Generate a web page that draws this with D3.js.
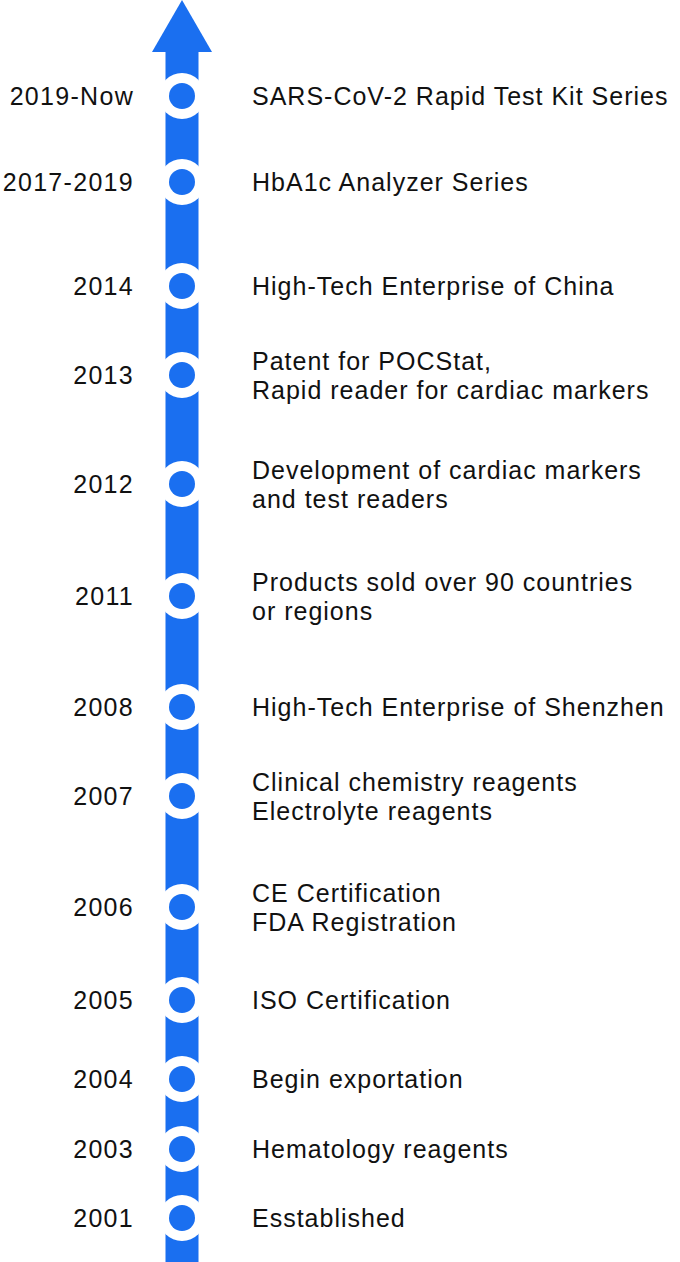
<!DOCTYPE html><html><head><meta charset="utf-8"><script src="https://cdn.jsdelivr.net/npm/d3@7"></script>
<style>body{margin:0;background:#fff}</style></head><body><svg id="c" width="680" height="1262"></svg>
<script>
const years=["2019-Now","2017-2019","2014","2013","2012","2011","2008","2007","2006","2005","2004","2003","2001"];
const events=[["SARS-CoV-2 Rapid Test Kit Series"],["HbA1c Analyzer Series"],["High-Tech Enterprise of China"],["Patent for POCStat,","Rapid reader for cardiac markers"],["Development of cardiac markers","and test readers"],["Products sold over 90 countries","or regions"],["High-Tech Enterprise of Shenzhen"],["Clinical chemistry reagents","Electrolyte reagents"],["CE Certification","FDA Registration"],["ISO Certification"],["Begin exportation"],["Hematology reagents"],["Esstablished"]];
const stops=[96,182,286,375,484,596,707,796,907,1000,1079,1149,1218];
const blue="#1a6ff0";
const svg=d3.select("#c");
const y=d3.scaleLinear().domain([0,1262]).range([0,1262]);
const cx=182;
svg.append("rect").attr("x",cx-16.5).attr("y",y(50)).attr("width",33).attr("height",y(1262)-y(50)).attr("fill",blue);
svg.append("path").attr("d",`M${cx},0 L${cx+30},${y(52)} L${cx-30},${y(52)} Z`).attr("fill",blue);
const g=svg.selectAll("g.s").data(stops).join("g").attr("transform",d=>`translate(${cx},${y(d)})`);
g.append("circle").attr("r",23).attr("fill","#fff");
g.append("circle").attr("r",13).attr("fill",blue);
svg.selectAll("text.yr").data(years).join("text").attr("x",134).attr("y",(d,i)=>y(stops[i])+9)
 .attr("text-anchor","end").attr("font-family","Liberation Sans, Arial").attr("font-size",25).attr("letter-spacing",1.3).attr("fill","#111").text(d=>d);
events.forEach((ls,i)=>{
 const n=ls.length;
 svg.selectAll(null).data(ls).join("text").attr("x",252).attr("y",(d,j)=>y(stops[i])+9+(j-(n-1)/2)*29)
 .attr("font-family","Liberation Sans, Arial").attr("font-size",25).attr("letter-spacing",1.0).attr("fill","#111").text(d=>d);
});
</script></body></html>
